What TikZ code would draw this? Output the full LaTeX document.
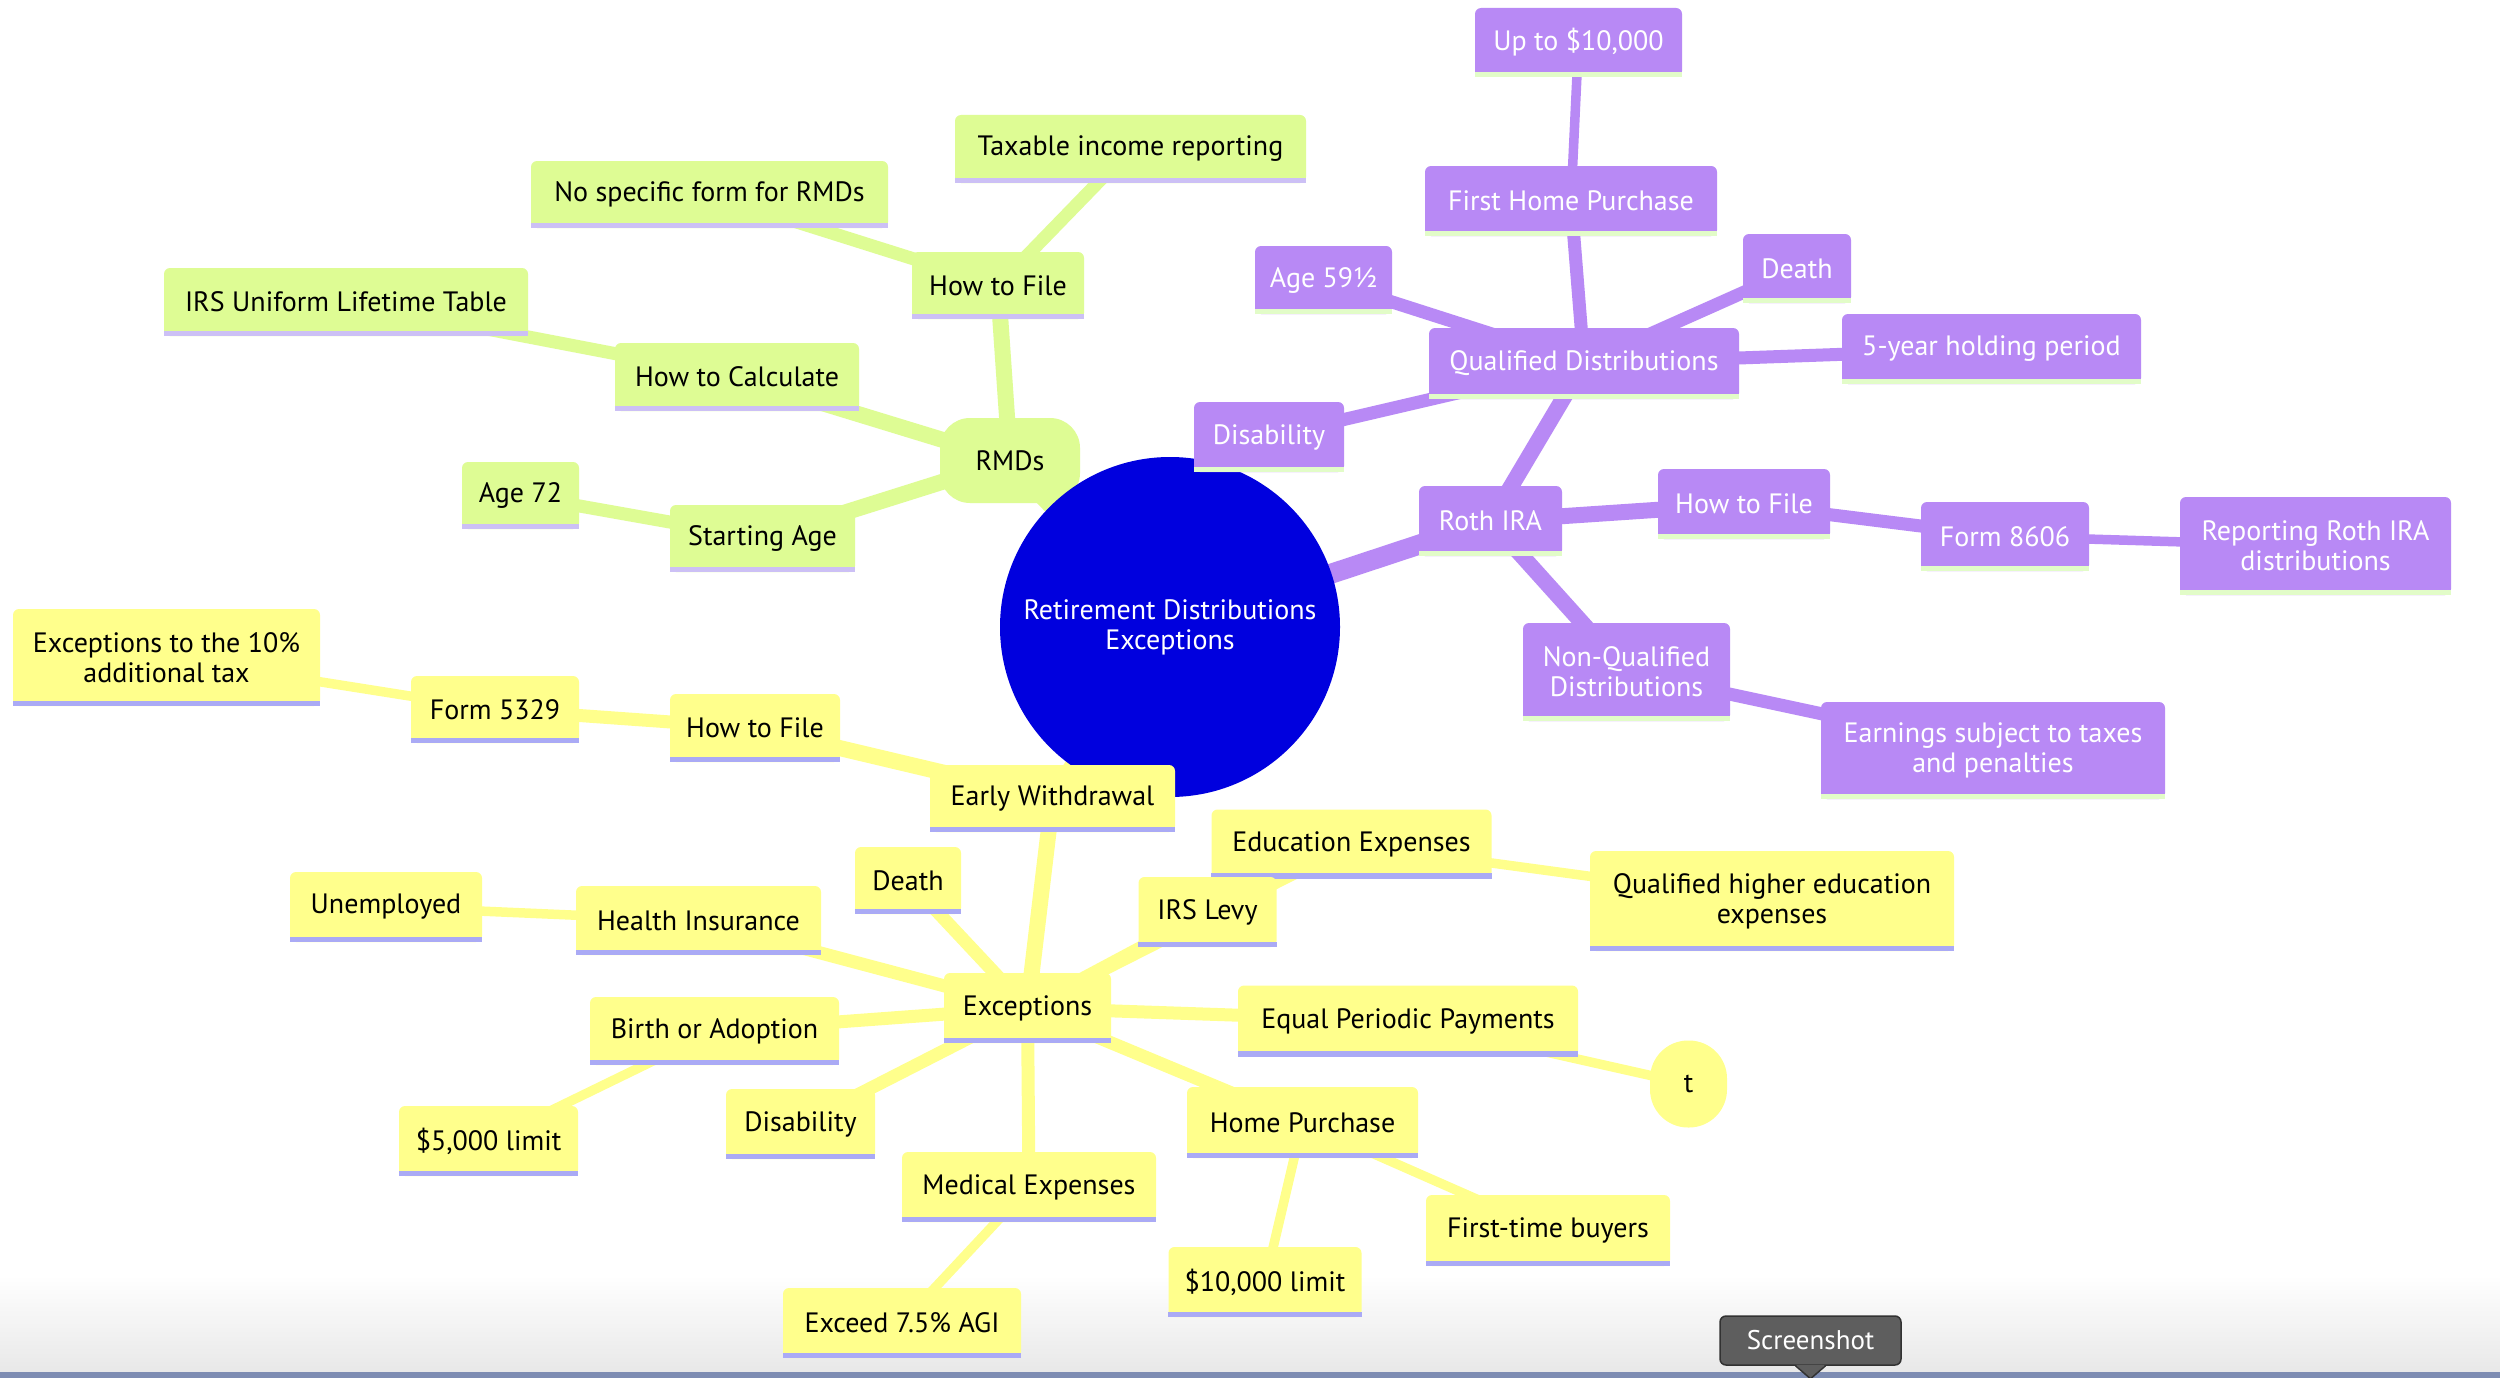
\documentclass[tikz,border=0pt]{standalone}
\usepackage{fontspec}
\setmainfont{PT Sans}
\usetikzlibrary{backgrounds}
\definecolor{gfill}{RGB}{222,252,148}
\definecolor{gstripe}{RGB}{204,192,245}
\definecolor{yfill}{RGB}{255,255,140}
\definecolor{ystripe}{RGB}{170,170,245}
\definecolor{pfill}{RGB}{184,137,245}
\definecolor{pstripe}{RGB}{226,252,200}
\definecolor{rootblue}{RGB}{0,0,222}
\definecolor{bandline}{RGB}{125,140,178}
\definecolor{bandgray}{RGB}{232,232,232}
\definecolor{tipgray}{RGB}{94,94,94}
\definecolor{tipborder}{RGB}{50,50,50}
\pgfdeclarelayer{back}
\pgfsetlayers{back,background,main}
\newcommand\nodefont{\fontsize{28}{30}\selectfont}
\tikzset{
  mmbase/.style={rectangle, rounded corners=6pt, inner sep=0pt, align=center, font=\nodefont},
  gbox/.style={mmbase, fill=gfill, text=black},
  ybox/.style={mmbase, fill=yfill, text=black},
  pbox/.style={mmbase, fill=pfill, text=white},
  rootnode/.style={circle, fill=rootblue, text=white, inner sep=0pt, align=center, font=\nodefont},
  gedge/.style={draw=gfill},
  yedge/.style={draw=yfill},
  pedge/.style={draw=pfill},
  dzero/.style={line width=20pt},
  done/.style={line width=16pt},
  dtwo/.style={line width=13pt},
  dthree/.style={line width=9.5pt},
  tipbox/.style={rectangle, rounded corners=6pt, fill=tipgray, draw=tipborder, line width=1.5pt, text=white, font=\fontsize{27}{30}\selectfont, inner sep=0pt}
}
% \mmnode{style}{stripe}{name}{x}{y}{w}{h}{text}
\newcommand\mmnode[8]{%
  \node[#1, minimum width=#6pt, minimum height=#7pt] (#3) at (#4,#5) {#8};
  \fill[#2] ([yshift=5.5pt]#3.south west) rectangle (#3.south east);
}
\begin{document}
\begin{tikzpicture}[x=1pt,y=-1pt]
\useasboundingbox (0,0) rectangle (2500,1378);
\begin{pgfonlayer}{back}
  \fill[white] (0,0) rectangle (2500,1378);
  \shade[top color=white, bottom color=bandgray] (0,1275) rectangle (2500,1372);
  \fill[bandline] (0,1372) rectangle (2500,1378);
\end{pgfonlayer}

% RMDs drawn before the root circle
\node[gbox, rounded corners=30pt, minimum width=140pt, minimum height=85pt] (rmds) at (1010,460.5) {RMDs};
\node[rootnode, minimum size=340pt] (root) at (1170,627) {Retirement Distributions\\Exceptions};

% Green branch
\mmnode{gbox}{gstripe}{taxable}{1130.5}{149}{351}{68}{Taxable income reporting}
\mmnode{gbox}{gstripe}{nospec}{709.5}{194.5}{357}{67}{No specific form for RMDs}
\mmnode{gbox}{gstripe}{gfile}{998}{285.5}{172}{67}{How to File}
\mmnode{gbox}{gstripe}{irsuni}{346}{302}{364}{68}{IRS Uniform Lifetime Table}
\mmnode{gbox}{gstripe}{calc}{737}{377}{244}{68}{How to Calculate}
\mmnode{gbox}{gstripe}{age72}{520.5}{495.5}{117}{67}{Age 72}
\mmnode{gbox}{gstripe}{startage}{762.5}{538.5}{185}{67}{Starting Age}

% Purple branch
\mmnode{pbox}{pstripe}{upto}{1578.5}{42.5}{207}{69}{Up to \$10,000}
\mmnode{pbox}{pstripe}{fhp}{1571}{201}{292}{70}{First Home Purchase}
\mmnode{pbox}{pstripe}{age59}{1323.5}{280}{137}{68}{Age 59½}
\mmnode{pbox}{pstripe}{pdeath}{1797}{268.5}{108}{69}{Death}
\mmnode{pbox}{pstripe}{qd}{1584}{363.5}{310}{71}{Qualified Distributions}
\mmnode{pbox}{pstripe}{fiveyr}{1991.5}{349}{299}{70}{5-year holding period}
\mmnode{pbox}{pstripe}{pdis}{1269}{437}{150}{70}{Disability}
\mmnode{pbox}{pstripe}{roth}{1490.5}{521}{143}{70}{Roth IRA}
\mmnode{pbox}{pstripe}{pfile}{1744}{504}{172}{70}{How to File}
\mmnode{pbox}{pstripe}{f8606}{2005}{536.5}{168}{69}{Form 8606}
\mmnode{pbox}{pstripe}{report}{2315.5}{546}{271}{98}{Reporting Roth IRA\\distributions}
\mmnode{pbox}{pstripe}{nonq}{1626.5}{672}{207}{98}{Non-Qualified\\Distributions}
\mmnode{pbox}{pstripe}{earn}{1993}{750.5}{344}{97}{Earnings subject to taxes\\and penalties}

% Yellow branch
\mmnode{ybox}{ystripe}{exc10}{166.5}{657.5}{307}{97}{Exceptions to the 10\%\\additional tax}
\mmnode{ybox}{ystripe}{f5329}{495}{709.5}{168}{67}{Form 5329}
\mmnode{ybox}{ystripe}{yfile}{755}{728}{170}{68}{How to File}
\mmnode{ybox}{ystripe}{early}{1052.5}{798.5}{245}{67}{Early Withdrawal}
\mmnode{ybox}{ystripe}{ydeath}{908}{880.5}{106}{67}{Death}
\mmnode{ybox}{ystripe}{edu}{1351.5}{844}{280}{69}{Education Expenses}
\mmnode{ybox}{ystripe}{qhee}{1772}{901}{364}{100}{Qualified higher education\\expenses}
\mmnode{ybox}{ystripe}{unemp}{386}{907}{192}{70}{Unemployed}
\mmnode{ybox}{ystripe}{health}{698.5}{920.5}{245}{69}{Health Insurance}
\mmnode{ybox}{ystripe}{levy}{1207.5}{912}{138}{70}{IRS Levy}
\mmnode{ybox}{ystripe}{exc}{1027.5}{1008}{167}{70}{Exceptions}
\mmnode{ybox}{ystripe}{epp}{1408}{1021}{340}{71}{Equal Periodic Payments}
\node[ybox, rounded corners=38pt, minimum width=77pt, minimum height=87pt] (tnode) at (1688.5,1084) {t};
\mmnode{ybox}{ystripe}{birth}{714.5}{1031}{249}{68}{Birth or Adoption}
\mmnode{ybox}{ystripe}{fivek}{488.5}{1141}{179}{70}{\$5,000 limit}
\mmnode{ybox}{ystripe}{ydis}{800.5}{1124}{149}{70}{Disability}
\mmnode{ybox}{ystripe}{medical}{1029}{1187}{254}{70}{Medical Expenses}
\mmnode{ybox}{ystripe}{exceed}{902}{1323}{238}{70}{Exceed 7.5\% AGI}
\mmnode{ybox}{ystripe}{home}{1302.5}{1122.5}{231}{71}{Home Purchase}
\mmnode{ybox}{ystripe}{ftb}{1548}{1230.5}{244}{71}{First-time buyers}
\mmnode{ybox}{ystripe}{tenk}{1265}{1282}{193}{70}{\$10,000 limit}

% Screenshot tooltip
\node[tipbox, minimum width=181pt, minimum height=49pt] (tip) at (1810.5,1340.5) {Screenshot};
\fill[tipgray] ([xshift=-15pt,yshift=1pt]tip.south) -- ([yshift=-13pt]tip.south) -- ([xshift=15pt,yshift=1pt]tip.south) -- cycle;
\draw[tipborder, line width=1.5pt] ([xshift=-15pt]tip.south) -- ([yshift=-13pt]tip.south) -- ([xshift=15pt]tip.south);

\begin{pgfonlayer}{background}
  % green edges
  \draw[gedge, dzero] (root.center) -- (rmds.center);
  \draw[gedge, done] (rmds.center) -- (gfile.center);
  \draw[gedge, done] (rmds.center) -- (calc.center);
  \draw[gedge, done] (rmds.center) -- (startage.center);
  \draw[gedge, dtwo] (gfile.center) -- (taxable.center);
  \draw[gedge, dtwo] (gfile.center) -- (nospec.center);
  \draw[gedge, dtwo] (calc.center) -- (irsuni.center);
  \draw[gedge, dtwo] (startage.center) -- (age72.center);
  % purple edges
  \draw[pedge, dzero] (root.center) -- (roth.center);
  \draw[pedge, done] (roth.center) -- (qd.center);
  \draw[pedge, done] (roth.center) -- (pfile.center);
  \draw[pedge, done] (roth.center) -- (nonq.center);
  \draw[pedge, dtwo] (qd.center) -- (fhp.center);
  \draw[pedge, dtwo] (qd.center) -- (age59.center);
  \draw[pedge, dtwo] (qd.center) -- (pdeath.center);
  \draw[pedge, dtwo] (qd.center) -- (fiveyr.center);
  \draw[pedge, dtwo] (qd.center) -- (pdis.center);
  \draw[pedge, dthree] (fhp.center) -- (upto.center);
  \draw[pedge, dtwo] (pfile.center) -- (f8606.center);
  \draw[pedge, dthree] (f8606.center) -- (report.center);
  \draw[pedge, dtwo] (nonq.center) -- (earn.center);
  % yellow edges
  \draw[yedge, dzero] (root.center) -- (early.center);
  \draw[yedge, done] (early.center) -- (yfile.center);
  \draw[yedge, done] (early.center) -- (exc.center);
  \draw[yedge, dtwo] (yfile.center) -- (f5329.center);
  \draw[yedge, dthree] (f5329.center) -- (exc10.center);
  \draw[yedge, dtwo] (exc.center) -- (ydeath.center);
  \draw[yedge, dtwo] (exc.center) -- (edu.center);
  \draw[yedge, dtwo] (exc.center) -- (health.center);
  \draw[yedge, dtwo] (exc.center) -- (levy.center);
  \draw[yedge, dtwo] (exc.center) -- (epp.center);
  \draw[yedge, dtwo] (exc.center) -- (birth.center);
  \draw[yedge, dtwo] (exc.center) -- (ydis.center);
  \draw[yedge, dtwo] (exc.center) -- (medical.center);
  \draw[yedge, dtwo] (exc.center) -- (home.center);
  \draw[yedge, dthree] (edu.center) -- (qhee.center);
  \draw[yedge, dthree] (health.center) -- (unemp.center);
  \draw[yedge, dthree] (epp.center) -- (tnode.center);
  \draw[yedge, dthree] (birth.center) -- (fivek.center);
  \draw[yedge, dthree] (medical.center) -- (exceed.center);
  \draw[yedge, dthree] (home.center) -- (ftb.center);
  \draw[yedge, dthree] (home.center) -- (tenk.center);
\end{pgfonlayer}
\end{tikzpicture}
\end{document}
